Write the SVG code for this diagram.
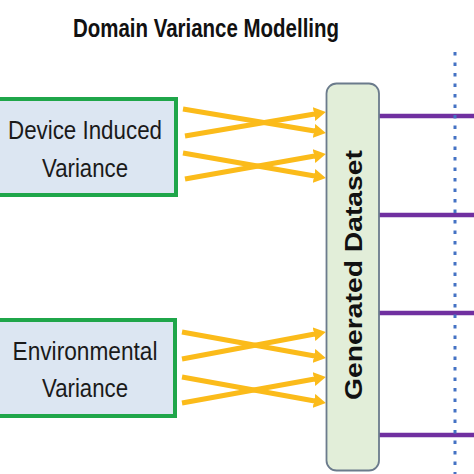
<svg xmlns="http://www.w3.org/2000/svg" width="474" height="474" viewBox="0 0 474 474">
  <style>
    .var { fill: #dce6f2; stroke: #1fa64a; stroke-width: 4; }
    .varText { font-family: "Liberation Sans", Arial, sans-serif; font-size: 26px; fill: #1a1a1a; text-anchor: middle; }
    .ds { fill: #e2eed9; stroke: #6b7b8c; stroke-width: 1.8; }
    .arrow { stroke: #fbbb1a; stroke-width: 5; fill: none; marker-end: url(#head); }
    .out { stroke: #7030a0; stroke-width: 4.5; }
    .dots { stroke: #4472c4; stroke-width: 3; stroke-dasharray: 3.5 7; fill: none; }
  </style>
  <defs>
    <marker id="head" markerUnits="userSpaceOnUse" markerWidth="15" markerHeight="15" refX="2" refY="7" orient="auto">
      <path d="M0,0 L12,7 L0,14 z" fill="#fbbb1a"/>
    </marker>
  </defs>
  <rect width="474" height="474" fill="#ffffff"/>

  <g id="title">
    <text x="206" y="37" font-family="'Liberation Sans Narrow', 'Liberation Sans', Arial, sans-serif" font-size="25" font-weight="bold" fill="#111" text-anchor="middle" textLength="266" lengthAdjust="spacingAndGlyphs">Domain Variance Modelling</text>
  </g>

  <g id="connectors">
    <line class="arrow" x1="183" y1="109" x2="316" y2="131.3"/>
    <line class="arrow" x1="185" y1="136" x2="316" y2="113.7"/>
    <line class="arrow" x1="183" y1="153" x2="316" y2="176.3"/>
    <line class="arrow" x1="185" y1="179" x2="316" y2="155.7"/>
    <line class="arrow" x1="182" y1="332" x2="316" y2="356.2"/>
    <line class="arrow" x1="182" y1="359" x2="316" y2="333.8"/>
    <line class="arrow" x1="182" y1="377" x2="316" y2="401.2"/>
    <line class="arrow" x1="182" y1="403" x2="316" y2="378.8"/>
    <line class="out" x1="379" y1="116" x2="474" y2="116"/>
    <line class="out" x1="379" y1="215" x2="474" y2="215"/>
    <line class="out" x1="379" y1="313" x2="474" y2="313"/>
    <line class="out" x1="379" y1="435" x2="474" y2="435"/>
    <line class="dots" x1="455" y1="52" x2="455" y2="474"/>
  </g>

  <g id="device-induced-variance">
    <rect class="var" x="-4" y="99" width="180" height="96"/>
    <text class="varText" x="85" y="139" textLength="154" lengthAdjust="spacingAndGlyphs">Device Induced</text>
    <text class="varText" x="85" y="177" textLength="86" lengthAdjust="spacingAndGlyphs">Variance</text>
  </g>

  <g id="environmental-variance">
    <rect class="var" x="-4" y="320" width="179" height="96"/>
    <text class="varText" x="85" y="360" textLength="145" lengthAdjust="spacingAndGlyphs">Environmental</text>
    <text class="varText" x="85" y="397" textLength="86" lengthAdjust="spacingAndGlyphs">Variance</text>
  </g>

  <g id="generated-dataset">
    <rect class="ds" x="326.5" y="83.5" width="52.5" height="387" rx="10"/>
    <text transform="translate(362,275) rotate(-90)" x="0" y="0" font-family="'Liberation Sans', Arial, sans-serif" font-size="24" font-weight="bold" fill="#111" text-anchor="middle" textLength="250" lengthAdjust="spacingAndGlyphs">Generated Dataset</text>
  </g>
</svg>
